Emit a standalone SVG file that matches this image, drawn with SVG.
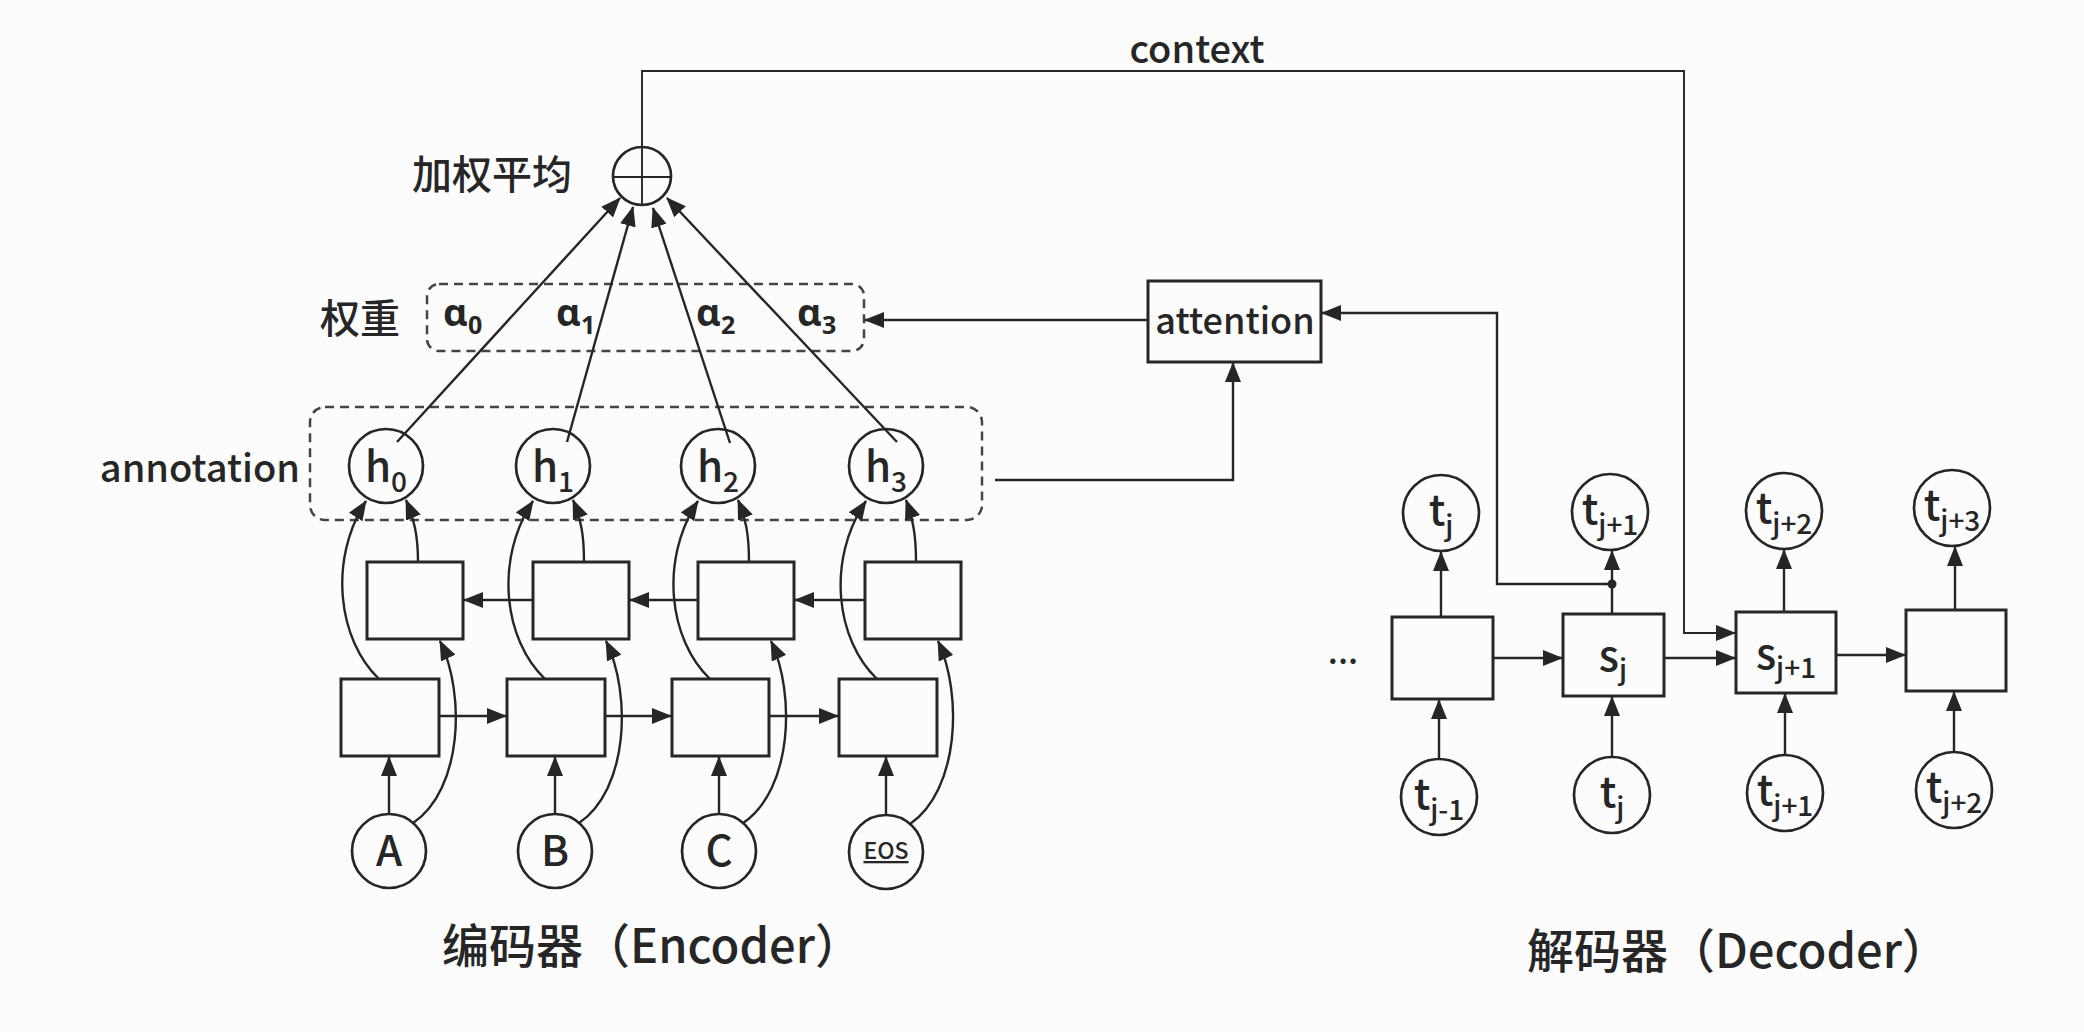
<svg xmlns="http://www.w3.org/2000/svg" width="2084" height="1032" viewBox="0 0 2084 1032">
<style>
.ln{fill:none;stroke:#262626;stroke-width:2.4}
.th{fill:none;stroke:#262626;stroke-width:1.9}
.bx{fill:none;stroke:#262626;stroke-width:3}
.cr{fill:none;stroke:#262626;stroke-width:2.7}
.dash{fill:none;stroke:#444;stroke-width:2.5;stroke-dasharray:9 6}
.t{font-family:"Noto Sans CJK SC","Noto Sans",sans-serif;fill:#262626;font-weight:500}
.lbl{font-family:"Noto Sans CJK SC","Noto Sans",sans-serif;fill:#262626;font-size:42px;text-anchor:middle;font-weight:500}
.al{font-family:"Noto Sans","Open Sans",sans-serif;fill:#262626;font-size:38px;font-weight:bold}
</style>
<defs>
<marker id="ah" viewBox="0 0 20 16" markerWidth="20" markerHeight="16" refX="19" refY="8" orient="auto" markerUnits="userSpaceOnUse"><path d="M0,0 L20,8 L0,16 z" fill="#262626"/></marker>
</defs>
<rect width="2084" height="1032" fill="#fcfcfc"/>

<!-- labels -->
<g id="label-context"><text class="t" x="1197" y="63" font-size="38" text-anchor="middle">context</text></g>
<g id="label-weighted"><text class="t" x="412" y="189" font-size="40">加权平均</text></g>
<g id="label-weights"><text class="t" x="320" y="333" font-size="40">权重</text></g>
<g id="label-annotation"><text class="t" x="300" y="482" font-size="38" text-anchor="end">annotation</text></g>
<g id="title-encoder"><text class="t" x="442" y="963" font-size="47">编码器（Encoder）</text></g>
<g id="title-decoder"><text class="t" x="1527" y="968" font-size="47">解码器（Decoder）</text></g>

<!-- oplus -->
<g id="oplus">
<circle class="cr" cx="642" cy="176" r="29"/>
<line class="th" x1="613" y1="177" x2="671" y2="177"/>
<line class="th" x1="642" y1="147" x2="642" y2="205"/>
</g>

<!-- alpha box -->
<g id="weights-box">
<rect class="dash" x="427" y="284" width="437" height="67" rx="12"/>
<text class="al" x="443" y="326">α<tspan font-size="25" dy="8">0</tspan></text>
<text class="al" x="556" y="326">α<tspan font-size="25" dy="8">1</tspan></text>
<text class="al" x="696" y="326">α<tspan font-size="25" dy="8">2</tspan></text>
<text class="al" x="797" y="326">α<tspan font-size="25" dy="8">3</tspan></text>
</g>

<!-- attention -->
<g id="attention">
<rect class="bx" x="1148" y="281" width="173" height="81"/>
<text class="t" x="1235" y="334" font-size="36" text-anchor="middle">attention</text>
</g>

<!-- annotation box -->
<g id="annotation-box"><rect class="dash" x="310" y="407" width="672" height="113" rx="15"/></g>

<!-- h nodes -->
<g id="h0"><circle class="cr" cx="386" cy="466" r="37"/><text class="lbl" x="386" y="482">h<tspan font-size="28" dy="10">0</tspan></text></g>
<g id="h1"><circle class="cr" cx="553" cy="466" r="37"/><text class="lbl" x="553" y="482">h<tspan font-size="28" dy="10">1</tspan></text></g>
<g id="h2"><circle class="cr" cx="718" cy="466" r="37"/><text class="lbl" x="718" y="482">h<tspan font-size="28" dy="10">2</tspan></text></g>
<g id="h3"><circle class="cr" cx="886" cy="466" r="37"/><text class="lbl" x="886" y="482">h<tspan font-size="28" dy="10">3</tspan></text></g>

<!-- encoder backward boxes -->
<g id="enc-back-0"><rect class="bx" x="367" y="562" width="96" height="77"/></g>
<g id="enc-back-1"><rect class="bx" x="533" y="562" width="96" height="77"/></g>
<g id="enc-back-2"><rect class="bx" x="698" y="562" width="96" height="77"/></g>
<g id="enc-back-3"><rect class="bx" x="865" y="562" width="96" height="77"/></g>

<!-- encoder forward boxes -->
<g id="enc-fwd-0"><rect class="bx" x="341" y="679" width="98" height="77"/></g>
<g id="enc-fwd-1"><rect class="bx" x="507" y="679" width="98" height="77"/></g>
<g id="enc-fwd-2"><rect class="bx" x="672" y="679" width="97" height="77"/></g>
<g id="enc-fwd-3"><rect class="bx" x="839" y="679" width="98" height="77"/></g>

<!-- inputs -->
<g id="in-A"><circle class="cr" cx="389" cy="851" r="37"/><text class="lbl" x="389" y="866">A</text></g>
<g id="in-B"><circle class="cr" cx="555" cy="851" r="37"/><text class="lbl" x="555" y="866">B</text></g>
<g id="in-C"><circle class="cr" cx="719" cy="851" r="37"/><text class="lbl" x="719" y="866">C</text></g>
<g id="in-EOS"><circle class="cr" cx="886" cy="852" r="37"/><text class="t" x="886" y="859" font-size="23" text-anchor="middle" text-decoration="underline">EOS</text></g>

<!-- decoder boxes -->
<g id="dec-0"><rect class="bx" x="1392" y="617" width="101" height="82"/></g>
<g id="dec-sj"><rect class="bx" x="1563" y="614" width="101" height="82"/><text class="lbl" x="1613" y="671">s<tspan font-size="28" dy="9">j</tspan></text></g>
<g id="dec-sj1"><rect class="bx" x="1736" y="612" width="100" height="81"/><text class="lbl" x="1786" y="669">s<tspan font-size="28" dy="9">j+1</tspan></text></g>
<g id="dec-3"><rect class="bx" x="1906" y="610" width="100" height="81"/></g>
<g id="dots"><text class="t" x="1343" y="664" font-size="34" text-anchor="middle">...</text></g>

<!-- decoder outputs -->
<g id="out-tj"><circle class="cr" cx="1441" cy="513" r="38"/><text class="lbl" x="1441" y="525">t<tspan font-size="28" dy="11">j</tspan></text></g>
<g id="out-tj1"><circle class="cr" cx="1610" cy="512" r="38"/><text class="lbl" x="1610" y="524">t<tspan font-size="28" dy="11">j+1</tspan></text></g>
<g id="out-tj2"><circle class="cr" cx="1784" cy="511" r="38"/><text class="lbl" x="1784" y="523">t<tspan font-size="28" dy="11">j+2</tspan></text></g>
<g id="out-tj3"><circle class="cr" cx="1952" cy="508" r="38"/><text class="lbl" x="1952" y="520">t<tspan font-size="28" dy="11">j+3</tspan></text></g>

<!-- decoder inputs -->
<g id="in-tjm1"><circle class="cr" cx="1439" cy="797" r="38"/><text class="lbl" x="1439" y="809">t<tspan font-size="28" dy="11">j-1</tspan></text></g>
<g id="in-tj"><circle class="cr" cx="1612" cy="795" r="38"/><text class="lbl" x="1612" y="807">t<tspan font-size="28" dy="11">j</tspan></text></g>
<g id="in-tj1"><circle class="cr" cx="1785" cy="793" r="38"/><text class="lbl" x="1785" y="805">t<tspan font-size="28" dy="11">j+1</tspan></text></g>
<g id="in-tj2"><circle class="cr" cx="1954" cy="790" r="38"/><text class="lbl" x="1954" y="802">t<tspan font-size="28" dy="11">j+2</tspan></text></g>

<!-- connectors -->
<g id="connectors">
<polyline class="th" points="642,147 642,71 1684,71 1684,633 1735,633" marker-end="url(#ah)"/>
<line class="ln" x1="397" y1="442" x2="620" y2="198" marker-end="url(#ah)"/>
<line class="ln" x1="567" y1="442" x2="633" y2="207" marker-end="url(#ah)"/>
<line class="ln" x1="730" y1="443" x2="653" y2="208" marker-end="url(#ah)"/>
<line class="ln" x1="897" y1="442" x2="667" y2="198" marker-end="url(#ah)"/>
<line class="ln" x1="1148" y1="320" x2="865" y2="320" marker-end="url(#ah)"/>
<polyline class="ln" points="995,480 1233,480 1233,363" marker-end="url(#ah)"/>
<polyline class="ln" points="1612,584 1497,584 1497,313 1322,313" marker-end="url(#ah)"/>
<circle cx="1612" cy="584" r="4.5" fill="#262626"/>
<line class="ln" x1="533" y1="600" x2="464" y2="600" marker-end="url(#ah)"/>
<line class="ln" x1="698" y1="600" x2="630" y2="600" marker-end="url(#ah)"/>
<line class="ln" x1="865" y1="600" x2="795" y2="600" marker-end="url(#ah)"/>
<line class="ln" x1="439" y1="716" x2="506" y2="716" marker-end="url(#ah)"/>
<line class="ln" x1="605" y1="716" x2="671" y2="716" marker-end="url(#ah)"/>
<line class="ln" x1="769" y1="716" x2="838" y2="716" marker-end="url(#ah)"/>
<line class="ln" x1="389" y1="814" x2="389" y2="757" marker-end="url(#ah)"/>
<line class="ln" x1="555" y1="814" x2="555" y2="757" marker-end="url(#ah)"/>
<line class="ln" x1="719" y1="814" x2="719" y2="757" marker-end="url(#ah)"/>
<line class="ln" x1="886" y1="815" x2="886" y2="757" marker-end="url(#ah)"/>
<path class="ln" d="M413,823 C462,790 466,695 440,641" marker-end="url(#ah)"/>
<path class="ln" d="M579,823 C628,790 632,695 606,641" marker-end="url(#ah)"/>
<path class="ln" d="M743,823 C792,790 796,695 771,641" marker-end="url(#ah)"/>
<path class="ln" d="M910,824 C959,790 963,695 938,641" marker-end="url(#ah)"/>
<path class="ln" d="M379,679 C338,640 328,560 366,501" marker-end="url(#ah)"/>
<path class="ln" d="M545,679 C504,640 494,560 533,501" marker-end="url(#ah)"/>
<path class="ln" d="M710,679 C669,640 659,560 698,501" marker-end="url(#ah)"/>
<path class="ln" d="M877,679 C836,640 826,560 866,501" marker-end="url(#ah)"/>
<path class="ln" d="M418,562 C418,535 414,519 406,500" marker-end="url(#ah)"/>
<path class="ln" d="M584,562 C584,535 581,519 573,500" marker-end="url(#ah)"/>
<path class="ln" d="M749,562 C749,535 746,519 738,500" marker-end="url(#ah)"/>
<path class="ln" d="M916,562 C916,535 913,519 906,500" marker-end="url(#ah)"/>
<line class="ln" x1="1493" y1="658" x2="1562" y2="658" marker-end="url(#ah)"/>
<line class="ln" x1="1664" y1="658" x2="1735" y2="658" marker-end="url(#ah)"/>
<line class="ln" x1="1836" y1="655" x2="1905" y2="655" marker-end="url(#ah)"/>
<line class="ln" x1="1441" y1="617" x2="1441" y2="552" marker-end="url(#ah)"/>
<line class="ln" x1="1612" y1="614" x2="1612" y2="551" marker-end="url(#ah)"/>
<line class="ln" x1="1784" y1="612" x2="1784" y2="550" marker-end="url(#ah)"/>
<line class="ln" x1="1955" y1="610" x2="1955" y2="547" marker-end="url(#ah)"/>
<line class="ln" x1="1439" y1="759" x2="1439" y2="700" marker-end="url(#ah)"/>
<line class="ln" x1="1612" y1="757" x2="1612" y2="697" marker-end="url(#ah)"/>
<line class="ln" x1="1785" y1="755" x2="1785" y2="694" marker-end="url(#ah)"/>
<line class="ln" x1="1954" y1="752" x2="1954" y2="692" marker-end="url(#ah)"/>
</g>
</svg>
